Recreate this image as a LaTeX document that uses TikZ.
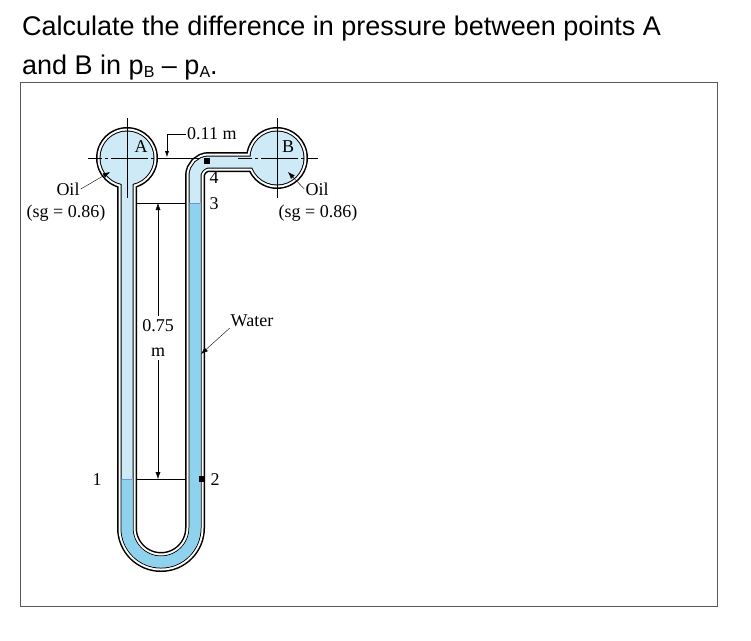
\documentclass[tikz,border=0pt]{standalone}
\usepackage{fontspec}
\setmainfont{Liberation Serif}
\newfontfamily\titlefont{Liberation Sans}
\usetikzlibrary{arrows.meta}
\definecolor{oil}{HTML}{CFEAF7}
\definecolor{water}{HTML}{8ED2EE}
\tikzset{lbl/.style={font=\fontsize{18}{18}\selectfont, inner sep=1pt},
 ttl/.style={font=\titlefont\fontsize{27}{27}\selectfont, anchor=west, inner sep=0pt},
 lead/.style={thin,-{Latex[length=7pt,width=5pt]}}}
\begin{document}
\begin{tikzpicture}[x=1pt,y=-1pt]
\useasboundingbox (0,0) rectangle (751,640);
\node[ttl] (t1) at (22,29) {Calculate the difference in pressure between points A};
\node[ttl] (t2) at (22,68) {and B in p\raisebox{-3pt}{\fontsize{16}{16}\selectfont B} – p\raisebox{-3pt}{\fontsize{16}{16}\selectfont A}.};
\draw[gray!70!black] (20,82) rectangle (717,606);
% tube path
\def\tube{(127,160) -- (127,528) arc[start angle=180,end angle=0,radius=34] -- (195,176) arc[start angle=180,end angle=270,radius=14] -- (277,162)}
\foreach \w/\r/\c in {20/31/black,17/29.5/white,13/27.5/black,11/26.5/oil}{
  \fill[\c] (127,158) circle (\r);
  \fill[\c] (277,158) circle (\r);
  \draw[\c,line width=\w pt] \tube;
}
\draw[water,line width=11pt] (127,479) -- (127,528) arc[start angle=180,end angle=0,radius=34] -- (195,203);
\draw[water!70!blue,thin] (122,479) -- (132,479) (190,203) -- (200,203);
% crosshairs
\draw[thin,dash pattern=on 14pt off 3pt on 3pt off 3pt] (88,158) -- (166,158);
\draw[thin,dash pattern=on 14pt off 3pt on 3pt off 3pt] (238,158) -- (318,158);
\draw[thin] (166,158) -- (200,158);
\draw[thin] (127,118) -- (127,198) (277,118) -- (277,198);
\draw[thin] (120,158) -- (134,158) (270,158) -- (284,158);
% labels A B
\node[lbl] (A) at (141,147) {A};
\node[lbl] (B) at (288,147) {B};
% markers
\fill (204,158) rectangle (210,164);
\fill (199,476) rectangle (204,482);
\node[lbl] (n4) at (214,178) {4};
\node[lbl] (n3) at (214,204) {3};
\node[lbl] (n2) at (215,480) {2};
\node[lbl] (n1) at (97,480) {1};
% dimension
\draw[thin] (137,203) -- (186,203);
\draw[thin] (137,479) -- (186,479);
\coordinate (dt) at (158,203);
\coordinate (db) at (158,479);
\node[lbl,inner sep=4pt] (d1) at (158,326) {0.75};
\node[lbl,inner sep=4pt] (d2) at (158,352) {m};
\draw[thin,-{Latex[length=7pt,width=5pt]}] (d1.north) -- (dt);
\draw[thin,-{Latex[length=7pt,width=5pt]}] (d2.south) -- (db);
% 0.11 m
\node[lbl,anchor=west] (d11) at (186,134) {0.11 m};
\coordinate (lk) at (167,134);
\coordinate (lt) at (167,157);
\draw[thin,-{Latex[length=6pt,width=4pt]}] (d11.west) -- (lk) -- (lt);
% oil labels
\node[lbl] (oil1) at (68,189) {Oil};
\node[lbl] (sg1) at (66,213) {(sg = 0.86)};
\coordinate (o1) at (110,172);
\draw[lead] (oil1.east) -- (o1);
\node[lbl] (oil2) at (317,189) {Oil};
\node[lbl] (sg2) at (318,213) {(sg = 0.86)};
\coordinate (o2) at (288,172);
\draw[lead] (oil2.west) -- (o2);
\node[lbl] (wat) at (252,321) {Water};
\coordinate (w1) at (201,354);
\draw[lead] (wat.south west) -- (w1);
\end{tikzpicture}
\end{document}
